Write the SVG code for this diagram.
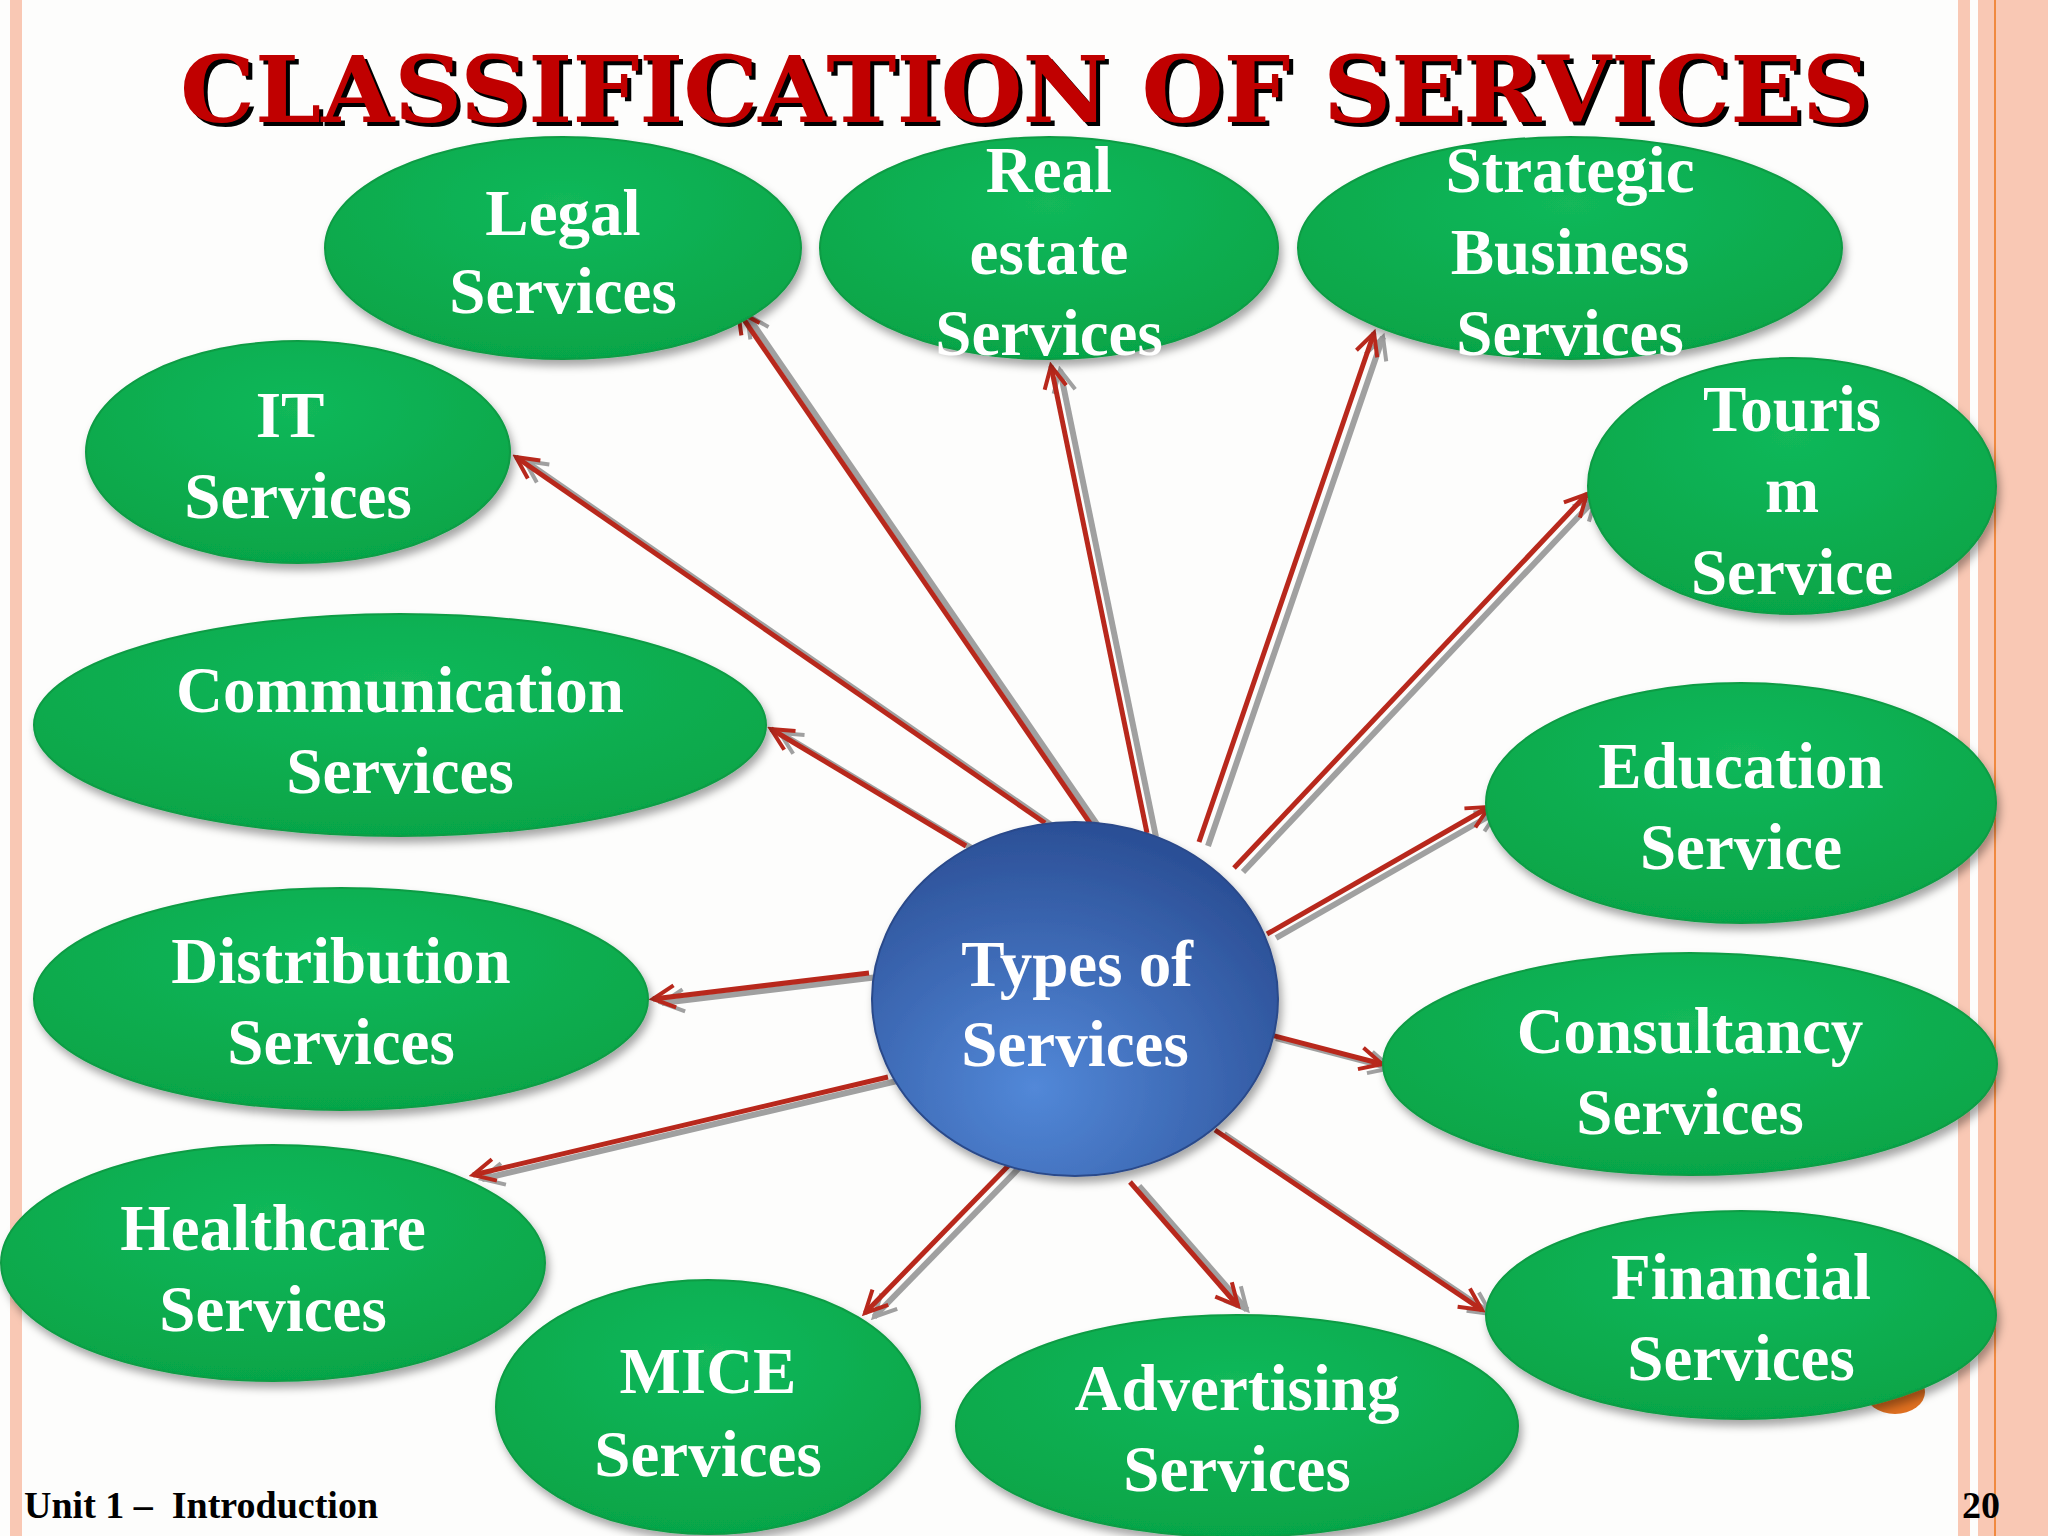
<svg xmlns="http://www.w3.org/2000/svg" width="2048" height="1536" viewBox="0 0 2048 1536">
<defs>
<style>
.n{font-family:"Liberation Serif","Times New Roman",serif;font-weight:bold;font-size:65px;fill:#fff;text-anchor:middle}
.e{fill:url(#g);stroke:#0a9c44;stroke-width:2;filter:url(#sh)}
.r{stroke:#b8281c;stroke-width:5;fill:none;marker-end:url(#ar)}
.y{stroke:#a0a0a0;stroke-width:6;fill:none;marker-end:url(#ay)}
.f{font-family:"Liberation Serif",serif;font-weight:bold;font-size:38px;fill:#000}
</style>
<radialGradient id="g" cx="50%" cy="30%" r="70%"><stop offset="0" stop-color="#12b85a"/><stop offset="1" stop-color="#06a548"/></radialGradient>
<radialGradient id="b" cx="40%" cy="75%" r="75%"><stop offset="0" stop-color="#5288d8"/><stop offset="1" stop-color="#2b4f96"/></radialGradient>
<filter id="sh" x="-10%" y="-10%" width="125%" height="135%"><feDropShadow dx="3" dy="6" stdDeviation="4" flood-color="#000" flood-opacity="0.35"/></filter>
<marker id="ar" markerWidth="30" markerHeight="30" refX="26" refY="15" orient="auto" markerUnits="userSpaceOnUse"><path d="M4,4 L26,15 L4,26" fill="none" stroke="#b8281c" stroke-width="4"/></marker>
<marker id="ay" markerWidth="30" markerHeight="30" refX="26" refY="15" orient="auto" markerUnits="userSpaceOnUse"><path d="M4,4 L26,15 L4,26" fill="none" stroke="#a0a0a0" stroke-width="4"/></marker>
</defs>
<rect width="2048" height="1536" fill="#fdfdfc"/>
<rect x="10" y="0" width="12" height="1536" fill="#f9c8b4"/>
<rect x="1958" y="0" width="12" height="1536" fill="#f9c8b4"/>
<rect x="1978" y="0" width="70" height="1536" fill="#f9c8b4"/>
<rect x="1994" y="0" width="2" height="1536" fill="#f08a40"/>
<g id="title" font-family="DejaVu Serif,Liberation Serif,serif" font-weight="bold" font-size="92">
<text x="184" y="126" textLength="1690" lengthAdjust="spacingAndGlyphs" fill="#000">CLASSIFICATION OF SERVICES</text>
<text x="180" y="122" textLength="1690" lengthAdjust="spacingAndGlyphs" fill="#c00000">CLASSIFICATION OF SERVICES</text>
</g>
<ellipse cx="1895" cy="1392" rx="30" ry="22" fill="#e07020"/>
<g id="connectors">
<g transform="translate(9,4)">
<path class="y" d="M1094,829 L738,311"/><path class="y" d="M1147,833 L1051,366"/><path class="y" d="M1199,842 L1374,333"/><path class="y" d="M1045,823 L516,457"/><path class="y" d="M1234,868 L1587,494"/><path class="y" d="M966,846 L771,729"/><path class="y" d="M1267,934 L1489,807"/><path class="y" d="M869,973 L653,999"/><path class="y" d="M1267,1034 L1382,1064"/><path class="y" d="M888,1077 L473,1175"/><path class="y" d="M1012,1162 L865,1313"/><path class="y" d="M1130,1182 L1238,1306"/><path class="y" d="M1215,1130 L1482,1310"/>
</g>
<path class="r" d="M1094,829 L738,311"/><path class="r" d="M1147,833 L1051,366"/><path class="r" d="M1199,842 L1374,333"/><path class="r" d="M1045,823 L516,457"/><path class="r" d="M1234,868 L1587,494"/><path class="r" d="M966,846 L771,729"/><path class="r" d="M1267,934 L1489,807"/><path class="r" d="M869,973 L653,999"/><path class="r" d="M1267,1034 L1382,1064"/><path class="r" d="M888,1077 L473,1175"/><path class="r" d="M1012,1162 L865,1313"/><path class="r" d="M1130,1182 L1238,1306"/><path class="r" d="M1215,1130 L1482,1310"/>
</g>
<g id="legal"><ellipse class="e" cx="563" cy="248" rx="238" ry="111"/><text class="n" x="563" y="235">Legal</text><text class="n" x="563" y="313">Services</text></g>
<g id="realestate"><ellipse class="e" cx="1049" cy="248" rx="229" ry="111"/><text class="n" x="1049" y="192">Real</text><text class="n" x="1049" y="274">estate</text><text class="n" x="1049" y="355">Services</text></g>
<g id="strategic"><ellipse class="e" cx="1570" cy="248" rx="272" ry="111"/><text class="n" x="1570" y="192">Strategic</text><text class="n" x="1570" y="274">Business</text><text class="n" x="1570" y="355">Services</text></g>
<g id="it"><ellipse class="e" cx="298" cy="452" rx="212" ry="111"/><text class="n" x="290" y="437">IT</text><text class="n" x="298" y="518">Services</text></g>
<g id="tourism"><ellipse class="e" cx="1792" cy="486" rx="204" ry="128"/><text class="n" x="1792" y="431">Touris</text><text class="n" x="1792" y="512">m</text><text class="n" x="1792" y="594">Service</text></g>
<g id="communication"><ellipse class="e" cx="400" cy="725" rx="366" ry="111"/><text class="n" x="400" y="712">Communication</text><text class="n" x="400" y="793">Services</text></g>
<g id="education"><ellipse class="e" cx="1741" cy="803" rx="255" ry="120"/><text class="n" x="1741" y="788">Education</text><text class="n" x="1741" y="869">Service</text></g>
<g id="distribution"><ellipse class="e" cx="341" cy="999" rx="307" ry="111"/><text class="n" x="341" y="983">Distribution</text><text class="n" x="341" y="1064">Services</text></g>
<g id="consultancy"><ellipse class="e" cx="1690" cy="1064" rx="307" ry="111"/><text class="n" x="1690" y="1053">Consultancy</text><text class="n" x="1690" y="1134">Services</text></g>
<g id="healthcare"><ellipse class="e" cx="273" cy="1263" rx="272" ry="118"/><text class="n" x="273" y="1250">Healthcare</text><text class="n" x="273" y="1331">Services</text></g>
<g id="mice"><ellipse class="e" cx="708" cy="1407" rx="212" ry="127"/><text class="n" x="708" y="1393">MICE</text><text class="n" x="708" y="1476">Services</text></g>
<g id="advertising"><ellipse class="e" cx="1237" cy="1426" rx="281" ry="111"/><text class="n" x="1237" y="1410">Advertising</text><text class="n" x="1237" y="1491">Services</text></g>
<g id="financial"><ellipse class="e" cx="1741" cy="1315" rx="255" ry="104"/><text class="n" x="1741" y="1299">Financial</text><text class="n" x="1741" y="1380">Services</text></g>
<g id="center"><ellipse cx="1075" cy="999" rx="203" ry="177" fill="url(#b)" stroke="#2a4a8a" stroke-width="2" filter="url(#sh)"/><text class="n" x="1077" y="986" font-size="70">Types of</text><text class="n" x="1075" y="1066" font-size="70">Services</text></g>
<g id="footer"><text class="f" x="24" y="1518" xml:space="preserve">Unit 1 –  Introduction</text><text class="f" x="1962" y="1518">20</text></g>
</svg>
